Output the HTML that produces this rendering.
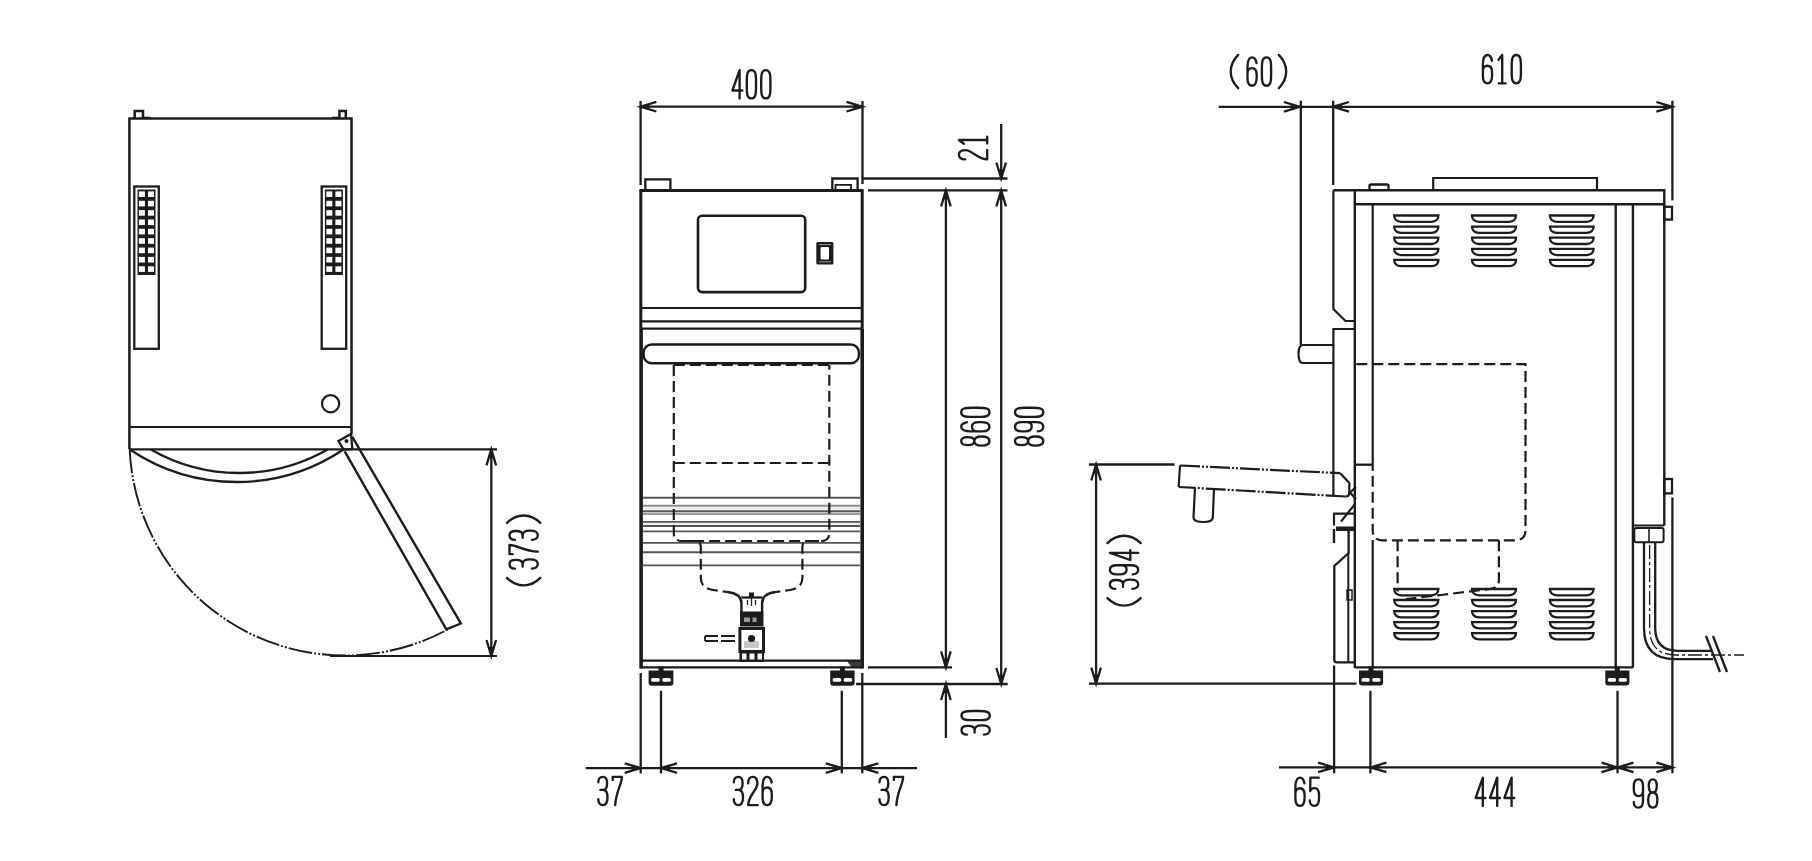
<!DOCTYPE html>
<html><head><meta charset="utf-8"><style>
html,body{margin:0;padding:0;background:#fff;overflow:hidden;}
svg{display:block;}
text{font-family:"Liberation Sans",sans-serif;fill:#1e1c1b;stroke:none;}
</style></head><body>
<svg width="1812" height="861" viewBox="0 0 1812 861" stroke="#1e1c1b" stroke-linecap="butt" fill="none">
<rect x="0" y="0" width="1812" height="861" fill="#fff" stroke="none"/>
<path d="M129.4 449.3 L129.4 118.6 L351.5 118.6 L351.5 434" stroke-width="2.5" fill="none" />
<line x1="129.4" y1="449.3" x2="497.0" y2="449.3" stroke-width="2.2" />
<line x1="129.4" y1="427.0" x2="351.5" y2="427.0" stroke-width="2.2" />
<path d="M134.7 118.6 L134.7 110.9 L143 110.9 L143 118.6" stroke-width="2.5" fill="none" />
<line x1="143.0" y1="117.6" x2="150.5" y2="117.6" stroke-width="1.8" />
<path d="M339.4 118.6 L339.4 110.9 L345.8 110.9 L345.8 118.6" stroke-width="2.5" fill="none" />
<line x1="332.0" y1="117.6" x2="339.4" y2="117.6" stroke-width="1.8" />
<rect x="134.3" y="186.5" width="24.5" height="162.3" rx="0" stroke-width="2.3" fill="none" />
<rect x="137.5" y="189.5" width="18.0" height="85.5" rx="0" stroke-width="0" fill="#1e1c1b" stroke="none"/>
<rect x="138.9" y="191.4" width="6.0" height="5.6" rx="0" stroke-width="0" fill="#fff" stroke="none"/>
<rect x="148.0" y="191.4" width="6.0" height="5.6" rx="0" stroke-width="0" fill="#fff" stroke="none"/>
<rect x="138.9" y="200.8" width="6.0" height="5.6" rx="0" stroke-width="0" fill="#fff" stroke="none"/>
<rect x="148.0" y="200.8" width="6.0" height="5.6" rx="0" stroke-width="0" fill="#fff" stroke="none"/>
<rect x="138.9" y="210.1" width="6.0" height="5.6" rx="0" stroke-width="0" fill="#fff" stroke="none"/>
<rect x="148.0" y="210.1" width="6.0" height="5.6" rx="0" stroke-width="0" fill="#fff" stroke="none"/>
<rect x="138.9" y="219.5" width="6.0" height="5.6" rx="0" stroke-width="0" fill="#fff" stroke="none"/>
<rect x="148.0" y="219.5" width="6.0" height="5.6" rx="0" stroke-width="0" fill="#fff" stroke="none"/>
<rect x="138.9" y="228.8" width="6.0" height="5.6" rx="0" stroke-width="0" fill="#fff" stroke="none"/>
<rect x="148.0" y="228.8" width="6.0" height="5.6" rx="0" stroke-width="0" fill="#fff" stroke="none"/>
<rect x="138.9" y="238.2" width="6.0" height="5.6" rx="0" stroke-width="0" fill="#fff" stroke="none"/>
<rect x="148.0" y="238.2" width="6.0" height="5.6" rx="0" stroke-width="0" fill="#fff" stroke="none"/>
<rect x="138.9" y="247.6" width="6.0" height="5.6" rx="0" stroke-width="0" fill="#fff" stroke="none"/>
<rect x="148.0" y="247.6" width="6.0" height="5.6" rx="0" stroke-width="0" fill="#fff" stroke="none"/>
<rect x="138.9" y="256.9" width="6.0" height="5.6" rx="0" stroke-width="0" fill="#fff" stroke="none"/>
<rect x="148.0" y="256.9" width="6.0" height="5.6" rx="0" stroke-width="0" fill="#fff" stroke="none"/>
<rect x="138.9" y="266.3" width="6.0" height="5.6" rx="0" stroke-width="0" fill="#fff" stroke="none"/>
<rect x="148.0" y="266.3" width="6.0" height="5.6" rx="0" stroke-width="0" fill="#fff" stroke="none"/>
<rect x="321.7" y="186.5" width="24.5" height="162.3" rx="0" stroke-width="2.3" fill="none" />
<rect x="324.9" y="189.5" width="18.0" height="85.5" rx="0" stroke-width="0" fill="#1e1c1b" stroke="none"/>
<rect x="326.3" y="191.4" width="6.0" height="5.6" rx="0" stroke-width="0" fill="#fff" stroke="none"/>
<rect x="335.4" y="191.4" width="6.0" height="5.6" rx="0" stroke-width="0" fill="#fff" stroke="none"/>
<rect x="326.3" y="200.8" width="6.0" height="5.6" rx="0" stroke-width="0" fill="#fff" stroke="none"/>
<rect x="335.4" y="200.8" width="6.0" height="5.6" rx="0" stroke-width="0" fill="#fff" stroke="none"/>
<rect x="326.3" y="210.1" width="6.0" height="5.6" rx="0" stroke-width="0" fill="#fff" stroke="none"/>
<rect x="335.4" y="210.1" width="6.0" height="5.6" rx="0" stroke-width="0" fill="#fff" stroke="none"/>
<rect x="326.3" y="219.5" width="6.0" height="5.6" rx="0" stroke-width="0" fill="#fff" stroke="none"/>
<rect x="335.4" y="219.5" width="6.0" height="5.6" rx="0" stroke-width="0" fill="#fff" stroke="none"/>
<rect x="326.3" y="228.8" width="6.0" height="5.6" rx="0" stroke-width="0" fill="#fff" stroke="none"/>
<rect x="335.4" y="228.8" width="6.0" height="5.6" rx="0" stroke-width="0" fill="#fff" stroke="none"/>
<rect x="326.3" y="238.2" width="6.0" height="5.6" rx="0" stroke-width="0" fill="#fff" stroke="none"/>
<rect x="335.4" y="238.2" width="6.0" height="5.6" rx="0" stroke-width="0" fill="#fff" stroke="none"/>
<rect x="326.3" y="247.6" width="6.0" height="5.6" rx="0" stroke-width="0" fill="#fff" stroke="none"/>
<rect x="335.4" y="247.6" width="6.0" height="5.6" rx="0" stroke-width="0" fill="#fff" stroke="none"/>
<rect x="326.3" y="256.9" width="6.0" height="5.6" rx="0" stroke-width="0" fill="#fff" stroke="none"/>
<rect x="335.4" y="256.9" width="6.0" height="5.6" rx="0" stroke-width="0" fill="#fff" stroke="none"/>
<rect x="326.3" y="266.3" width="6.0" height="5.6" rx="0" stroke-width="0" fill="#fff" stroke="none"/>
<rect x="335.4" y="266.3" width="6.0" height="5.6" rx="0" stroke-width="0" fill="#fff" stroke="none"/>
<circle cx="330.6" cy="403.7" r="8.6" stroke-width="2.2" fill="none"/>
<path d="M338.4 440.9 L351.1 433.9 L352.3 449 L343.6 449.6 Z" stroke-width="2.3" fill="none" />
<circle cx="346.5" cy="440.9" r="2" fill="#1e1c1b" stroke="none"/>
<path d="M352.3 436.8 L460.8 623.5 L446.3 629.3 L344.7 451.4" stroke-width="2.4" fill="none" />
<path d="M129.8 449.5 A192 192 0 0 0 343.5 449.5" stroke-width="2.3" fill="none" />
<path d="M150.8 449.5 A178 178 0 0 0 327.6 449.5" stroke-width="2.3" fill="none" />
<path d="M129.7 449.4 A215.5 215.5 0 0 0 451.1 627.6" stroke-width="1.9" fill="none" stroke-dasharray="24 2 2 2 2 2"/>
<line x1="330.0" y1="656.0" x2="497.0" y2="656.0" stroke-width="2.2" />
<line x1="491.3" y1="449.3" x2="491.3" y2="656.0" stroke-width="2.3" />
<path d="M486.5 465.3 L491.3 449.3 L496.1 465.3" stroke-width="2.3" fill="none" stroke-linejoin="miter"/>
<path d="M491.3 449.3 L488.9 458.3 L493.7 458.3Z" fill="#1e1c1b" stroke="none"/>
<path d="M496.1 640.0 L491.3 656.0 L486.5 640.0" stroke-width="2.3" fill="none" stroke-linejoin="miter"/>
<path d="M491.3 656.0 L493.7 647.0 L488.9 647.0Z" fill="#1e1c1b" stroke="none"/>
<g transform="translate(508.40 586.50) rotate(-90)" stroke-width="2.35" stroke-linecap="round" stroke-linejoin="round" fill="none"><path transform="translate(0.00 0)" d="M8.6 -1.4 C2.2 5 1.1 10 1.1 15.25 C1.1 20.5 2.2 25.5 8.6 31.9"/><path transform="translate(16.80 0)" d="M1.1 6.5 C1.1 2.5 3 1.1 5.7 1.1 C8.6 1.1 9.9 3 9.9 7.5 C9.9 12 8.5 14.2 5.7 14.2 L3.2 14.2 M5.7 14.2 C8.8 14.2 10.3 16.5 10.3 21.5 C10.3 26.5 8.8 29.4 5.7 29.4 C2.8 29.4 1.1 27 1.1 23.5"/><path transform="translate(31.20 0)" d="M1.1 4.2 L1.1 1.1 L10.3 1.1 C10.3 9 4.5 15 3.6 29.4"/><path transform="translate(45.60 0)" d="M1.1 6.5 C1.1 2.5 3 1.1 5.7 1.1 C8.6 1.1 9.9 3 9.9 7.5 C9.9 12 8.5 14.2 5.7 14.2 L3.2 14.2 M5.7 14.2 C8.8 14.2 10.3 16.5 10.3 21.5 C10.3 26.5 8.8 29.4 5.7 29.4 C2.8 29.4 1.1 27 1.1 23.5"/><path transform="translate(62.50 0)" d="M1.1 -1.4 C7.4 5 8.5 10 8.5 15.25 C8.5 20.5 7.4 25.5 1.1 31.9"/></g>
<line x1="640.6" y1="101.0" x2="640.6" y2="185.0" stroke-width="2.3" />
<line x1="862.5" y1="101.0" x2="862.5" y2="184.0" stroke-width="2.3" />
<line x1="640.4" y1="106.7" x2="862.5" y2="106.7" stroke-width="2.3" />
<path d="M656.4 111.5 L640.4 106.7 L656.4 101.9" stroke-width="2.3" fill="none" stroke-linejoin="miter"/>
<path d="M640.4 106.7 L649.4 109.1 L649.4 104.3Z" fill="#1e1c1b" stroke="none"/>
<path d="M846.5 101.9 L862.5 106.7 L846.5 111.5" stroke-width="2.3" fill="none" stroke-linejoin="miter"/>
<path d="M862.5 106.7 L853.5 104.3 L853.5 109.1Z" fill="#1e1c1b" stroke="none"/>
<g transform="translate(731.30 69.00)" stroke-width="2.35" stroke-linecap="round" stroke-linejoin="round" fill="none"><path transform="translate(0.00 0)" d="M8.3 29.4 L8.3 1.1 L1.1 21.5 L11.0 21.5"/><path transform="translate(14.40 0)" d="M5.7 1.1 C9.700000000000001 1.1 10.3 5 10.3 12 L10.3 18.5 C10.3 25.5 9.700000000000001 29.4 5.7 29.4 C1.7000000000000002 29.4 1.1 25.5 1.1 18.5 L1.1 12 C1.1 5 1.7000000000000002 1.1 5.7 1.1 Z"/><path transform="translate(28.80 0)" d="M5.7 1.1 C9.700000000000001 1.1 10.3 5 10.3 12 L10.3 18.5 C10.3 25.5 9.700000000000001 29.4 5.7 29.4 C1.7000000000000002 29.4 1.1 25.5 1.1 18.5 L1.1 12 C1.1 5 1.7000000000000002 1.1 5.7 1.1 Z"/></g>
<path d="M640.8 328.6 L640.8 190.4 L862.2 190.4 L862.2 328.6" stroke-width="3.0" fill="none" />
<line x1="641.1" y1="328.6" x2="641.1" y2="668.5" stroke-width="3.6" />
<line x1="862.2" y1="328.6" x2="862.2" y2="668.5" stroke-width="3.6" />
<path d="M846 660 L861 660 L861 667.5 L852 667.5 Z" fill="#3a3a3a" stroke="none"/>
<path d="M645.3 190.4 L645.3 179.3 L670.4 179.3 L670.4 190.4" stroke-width="2.3" fill="none" />
<path d="M832.3 190.4 L832.3 178.5 L857.6 178.5 L857.6 190.4" stroke-width="2.3" fill="none" />
<path d="M835.5 190.4 L835.5 184.8 L851 184.8 L851 190.4" stroke-width="1.8" fill="none" />
<rect x="698.0" y="215.7" width="107.2" height="76.4" rx="4" stroke-width="2.6" fill="none" />
<rect x="816.3" y="242.0" width="17.1" height="22.5" rx="1.5" stroke-width="0" fill="#1e1c1b" stroke="none"/>
<rect x="820.6" y="247.0" width="8.4" height="12.5" rx="1" stroke-width="0" fill="#fff" stroke="none"/>
<line x1="819.0" y1="244.6" x2="831.0" y2="244.6" stroke-width="1.0" stroke="#999"/>
<line x1="819.0" y1="261.8" x2="831.0" y2="261.8" stroke-width="1.0" stroke="#999"/>
<line x1="640.4" y1="308.0" x2="862.3" y2="308.0" stroke-width="2.2" />
<line x1="640.4" y1="321.4" x2="862.3" y2="321.4" stroke-width="2.2" />
<line x1="640.4" y1="328.6" x2="862.3" y2="328.6" stroke-width="2.2" />
<rect x="643.6" y="344.5" width="215.3" height="18.8" rx="8" stroke-width="2.4" fill="none" />
<line x1="643.0" y1="497.8" x2="860.0" y2="497.8" stroke-width="1.9" stroke="#555"/>
<line x1="643.0" y1="505.7" x2="860.0" y2="505.7" stroke-width="1.9" stroke="#8a8a8a"/>
<line x1="643.0" y1="508.6" x2="860.0" y2="508.6" stroke-width="1.5" stroke="#e0e0e0"/>
<line x1="643.0" y1="511.2" x2="860.0" y2="511.2" stroke-width="1.9" stroke="#555"/>
<line x1="643.0" y1="513.8" x2="860.0" y2="513.8" stroke-width="2.2" stroke="#9a9a9a"/>
<line x1="643.0" y1="521.9" x2="860.0" y2="521.9" stroke-width="1.9" stroke="#555"/>
<line x1="643.0" y1="524.0" x2="860.0" y2="524.0" stroke-width="1.2" stroke="#e0e0e0"/>
<line x1="643.0" y1="526.0" x2="860.0" y2="526.0" stroke-width="1.9" stroke="#555"/>
<line x1="643.0" y1="531.4" x2="860.0" y2="531.4" stroke-width="1.9" stroke="#5a5a5a"/>
<line x1="643.0" y1="542.9" x2="860.0" y2="542.9" stroke-width="1.9" stroke="#555"/>
<line x1="643.0" y1="552.2" x2="860.0" y2="552.2" stroke-width="1.9" stroke="#555"/>
<line x1="643.0" y1="565.4" x2="860.0" y2="565.4" stroke-width="1.9" stroke="#555"/>
<path d="M673.8 365 L829.3 365" stroke-width="2.2" fill="none" stroke-dasharray="11 5"/>
<path d="M673.8 365 L673.8 533 Q673.8 541 681.8 541 L821.3 541 Q829.3 541 829.3 533 L829.3 365" stroke-width="2.2" fill="none" stroke-dasharray="11 5"/>
<path d="M673.8 463 L829.3 463" stroke-width="2.2" fill="none" stroke-dasharray="11 5"/>
<path d="M684 541 L695 541 Q700.8 541 700.8 547 L700.8 578 Q700.8 588 713 590 L730 592.5" stroke-width="2.2" fill="none" stroke-dasharray="11 5"/>
<path d="M819 541 L808 541 Q802.4 541 802.4 547 L802.4 578 Q802.4 588 790 590 L773 592.5" stroke-width="2.2" fill="none" stroke-dasharray="11 5"/>
<path d="M728 592 Q741.4 594 741.4 603 L741.4 612" stroke-width="2.4" fill="none" />
<path d="M775 592 Q762.1 594 762.1 603 L762.1 612" stroke-width="2.4" fill="none" />
<line x1="741.4" y1="597.5" x2="762.1" y2="597.5" stroke-width="2.3" />
<rect x="749.0" y="592.5" width="5.0" height="4.5" rx="0" stroke-width="0" fill="#1e1c1b" stroke="none"/>
<path d="M747.5 600 L747.5 605 M751.5 598 L751.5 606 M755.5 600 L755.5 605" stroke-width="1.3" fill="none" />
<rect x="740.0" y="611.5" width="23.5" height="15.0" rx="0" stroke-width="0" fill="#1e1c1b" stroke="none"/>
<rect x="744.0" y="617.5" width="6.0" height="4.5" rx="0" stroke-width="0" fill="#9a9a9a" stroke="none"/>
<rect x="752.5" y="617.5" width="4.0" height="4.5" rx="0" stroke-width="0" fill="#9a9a9a" stroke="none"/>
<rect x="739.9" y="628.5" width="23.6" height="23.0" rx="0" stroke-width="3.0" fill="none" />
<rect x="744.0" y="641.0" width="15.0" height="7.0" rx="0" stroke-width="0" fill="#c8c8c8" stroke="none"/>
<circle cx="751.5" cy="638.5" r="3.6" fill="#1e1c1b" stroke="none"/>
<rect x="739.5" y="651.5" width="24.5" height="10.5" rx="0" stroke-width="0" fill="#1e1c1b" stroke="none"/>
<rect x="742.0" y="653.5" width="4.5" height="6.5" rx="0" stroke-width="0" fill="#fff" stroke="none"/>
<rect x="749.5" y="653.5" width="5.0" height="6.5" rx="0" stroke-width="0" fill="#fff" stroke="none"/>
<rect x="757.5" y="653.5" width="4.5" height="6.5" rx="0" stroke-width="0" fill="#fff" stroke="none"/>
<path d="M705 636 L718 636 M705 641 L718 641 M721 636 L735 636 M721 641 L735 641 M705 636 L705 641" stroke-width="1.8" fill="none" />
<line x1="640.4" y1="660.6" x2="862.3" y2="660.6" stroke-width="2.2" />
<line x1="640.4" y1="667.4" x2="862.3" y2="667.4" stroke-width="2.2" />
<path d="M648.6 670.5 L673.4 670.5 L673.4 682.8 Q673.4 685.8 670.4 685.8 L651.6 685.8 Q648.6 685.8 648.6 682.8 Z" fill="#1e1c1b" stroke="none"/>
<rect x="658.5" y="666.5" width="5.0" height="4.5" rx="0" stroke-width="0" fill="#1e1c1b" stroke="none"/>
<rect x="651.1" y="678.0" width="8.6" height="3.8" rx="1.5" stroke-width="0" fill="#fff" stroke="none"/>
<rect x="662.3" y="678.0" width="8.6" height="3.8" rx="1.5" stroke-width="0" fill="#fff" stroke="none"/>
<path d="M830.2 670.5 L854.6 670.5 L854.6 682.8 Q854.6 685.8 851.6 685.8 L833.2 685.8 Q830.2 685.8 830.2 682.8 Z" fill="#1e1c1b" stroke="none"/>
<rect x="839.9" y="666.5" width="5.0" height="4.5" rx="0" stroke-width="0" fill="#1e1c1b" stroke="none"/>
<rect x="832.7" y="678.0" width="8.4" height="3.8" rx="1.5" stroke-width="0" fill="#fff" stroke="none"/>
<rect x="843.7" y="678.0" width="8.4" height="3.8" rx="1.5" stroke-width="0" fill="#fff" stroke="none"/>
<line x1="862.5" y1="178.5" x2="1007.5" y2="178.5" stroke-width="2.3" />
<line x1="868.0" y1="190.4" x2="1007.5" y2="190.4" stroke-width="2.3" />
<line x1="1001.2" y1="124.0" x2="1001.2" y2="178.5" stroke-width="2.3" />
<path d="M1006.0 162.5 L1001.2 178.5 L996.4 162.5" stroke-width="2.3" fill="none" stroke-linejoin="miter"/>
<path d="M1001.2 178.5 L1003.6 169.5 L998.8 169.5Z" fill="#1e1c1b" stroke="none"/>
<line x1="1001.2" y1="190.4" x2="1001.2" y2="684.0" stroke-width="2.3" />
<path d="M996.4 206.4 L1001.2 190.4 L1006.0 206.4" stroke-width="2.3" fill="none" stroke-linejoin="miter"/>
<path d="M1001.2 190.4 L998.8 199.4 L1003.6 199.4Z" fill="#1e1c1b" stroke="none"/>
<path d="M1006.0 668.0 L1001.2 684.0 L996.4 668.0" stroke-width="2.3" fill="none" stroke-linejoin="miter"/>
<path d="M1001.2 684.0 L1003.6 675.0 L998.8 675.0Z" fill="#1e1c1b" stroke="none"/>
<line x1="945.9" y1="190.4" x2="945.9" y2="667.4" stroke-width="2.3" />
<path d="M941.1 206.4 L945.9 190.4 L950.7 206.4" stroke-width="2.3" fill="none" stroke-linejoin="miter"/>
<path d="M945.9 190.4 L943.5 199.4 L948.3 199.4Z" fill="#1e1c1b" stroke="none"/>
<path d="M950.7 651.4 L945.9 667.4 L941.1 651.4" stroke-width="2.3" fill="none" stroke-linejoin="miter"/>
<path d="M945.9 667.4 L948.3 658.4 L943.5 658.4Z" fill="#1e1c1b" stroke="none"/>
<line x1="945.9" y1="684.0" x2="945.9" y2="738.0" stroke-width="2.3" />
<path d="M941.1 700.0 L945.9 684.0 L950.7 700.0" stroke-width="2.3" fill="none" stroke-linejoin="miter"/>
<path d="M945.9 684.0 L943.5 693.0 L948.3 693.0Z" fill="#1e1c1b" stroke="none"/>
<line x1="868.0" y1="667.4" x2="952.0" y2="667.4" stroke-width="2.3" />
<line x1="856.0" y1="684.0" x2="1007.7" y2="684.0" stroke-width="2.3" />
<g transform="translate(957.80 160.40) rotate(-90)" stroke-width="2.35" stroke-linecap="round" stroke-linejoin="round" fill="none"><path transform="translate(0.00 0)" d="M1.1 7.5 C1.1 3 3 1.1 5.7 1.1 C8.6 1.1 10.3 3 10.3 8 C10.3 14 1.1 20 1.1 29.4 L10.600000000000001 29.4"/><path transform="translate(14.40 0)" d="M2.2 6 L6 1.1 L6 29.4 M2.6 29.4 L9.4 29.4"/></g>
<g transform="translate(960.10 446.80) rotate(-90)" stroke-width="2.35" stroke-linecap="round" stroke-linejoin="round" fill="none"><path transform="translate(0.00 0)" d="M5.7 14.2 C2.8 14.2 1.7000000000000002 12 1.7000000000000002 7.5 C1.7000000000000002 3.3 2.8 1.1 5.7 1.1 C8.6 1.1 9.700000000000001 3.3 9.700000000000001 7.5 C9.700000000000001 12 8.6 14.2 5.7 14.2 C8.8 14.2 10.3 16.5 10.3 21.5 C10.3 26.5 8.8 29.4 5.7 29.4 C2.6 29.4 1.1 26.5 1.1 21.5 C1.1 16.5 2.6 14.2 5.7 14.2 Z"/><path transform="translate(14.40 0)" d="M10.100000000000001 6.8 C9.5 3 8 1.1 5.7 1.1 C2.6 1.1 1.1 4 1.1 11 L1.1 22 C1.1 26.5 2.5 29.4 5.7 29.4 C8.8 29.4 10.3 26.5 10.3 21 L10.3 19 C10.3 14.5 8.8 11.8 5.7 11.8 C2.8 11.8 1.1 14 1.1 17"/><path transform="translate(28.80 0)" d="M5.7 1.1 C9.700000000000001 1.1 10.3 5 10.3 12 L10.3 18.5 C10.3 25.5 9.700000000000001 29.4 5.7 29.4 C1.7000000000000002 29.4 1.1 25.5 1.1 18.5 L1.1 12 C1.1 5 1.7000000000000002 1.1 5.7 1.1 Z"/></g>
<g transform="translate(1013.90 446.80) rotate(-90)" stroke-width="2.35" stroke-linecap="round" stroke-linejoin="round" fill="none"><path transform="translate(0.00 0)" d="M5.7 14.2 C2.8 14.2 1.7000000000000002 12 1.7000000000000002 7.5 C1.7000000000000002 3.3 2.8 1.1 5.7 1.1 C8.6 1.1 9.700000000000001 3.3 9.700000000000001 7.5 C9.700000000000001 12 8.6 14.2 5.7 14.2 C8.8 14.2 10.3 16.5 10.3 21.5 C10.3 26.5 8.8 29.4 5.7 29.4 C2.6 29.4 1.1 26.5 1.1 21.5 C1.1 16.5 2.6 14.2 5.7 14.2 Z"/><path transform="translate(14.40 0)" d="M5.7 17.8 C2.6 17.8 1.1 15.5 1.1 11 L1.1 8 C1.1 3.5 2.6 1.1 5.7 1.1 C8.8 1.1 10.3 3.5 10.3 8 L10.3 22 C10.3 26.5 8.8 29.4 5.7 29.4 C2.8 29.4 1.1 27 1.1 24 M10.3 13 C10.3 16 8.8 17.8 5.7 17.8"/><path transform="translate(28.80 0)" d="M5.7 1.1 C9.700000000000001 1.1 10.3 5 10.3 12 L10.3 18.5 C10.3 25.5 9.700000000000001 29.4 5.7 29.4 C1.7000000000000002 29.4 1.1 25.5 1.1 18.5 L1.1 12 C1.1 5 1.7000000000000002 1.1 5.7 1.1 Z"/></g>
<g transform="translate(960.40 735.70) rotate(-90)" stroke-width="2.35" stroke-linecap="round" stroke-linejoin="round" fill="none"><path transform="translate(0.00 0)" d="M1.1 6.5 C1.1 2.5 3 1.1 5.7 1.1 C8.6 1.1 9.9 3 9.9 7.5 C9.9 12 8.5 14.2 5.7 14.2 L3.2 14.2 M5.7 14.2 C8.8 14.2 10.3 16.5 10.3 21.5 C10.3 26.5 8.8 29.4 5.7 29.4 C2.8 29.4 1.1 27 1.1 23.5"/><path transform="translate(14.40 0)" d="M5.7 1.1 C9.700000000000001 1.1 10.3 5 10.3 12 L10.3 18.5 C10.3 25.5 9.700000000000001 29.4 5.7 29.4 C1.7000000000000002 29.4 1.1 25.5 1.1 18.5 L1.1 12 C1.1 5 1.7000000000000002 1.1 5.7 1.1 Z"/></g>
<line x1="585.7" y1="768.1" x2="917.0" y2="768.1" stroke-width="2.3" />
<line x1="640.7" y1="673.0" x2="640.7" y2="773.4" stroke-width="2.3" />
<line x1="661.0" y1="690.8" x2="661.0" y2="773.4" stroke-width="2.3" />
<line x1="841.8" y1="690.8" x2="841.8" y2="773.4" stroke-width="2.3" />
<line x1="862.3" y1="673.0" x2="862.3" y2="773.4" stroke-width="2.3" />
<path d="M624.7 763.3 L640.7 768.1 L624.7 772.9" stroke-width="2.3" fill="none" stroke-linejoin="miter"/>
<path d="M640.7 768.1 L631.7 765.7 L631.7 770.5Z" fill="#1e1c1b" stroke="none"/>
<path d="M677.0 772.9 L661.0 768.1 L677.0 763.3" stroke-width="2.3" fill="none" stroke-linejoin="miter"/>
<path d="M661.0 768.1 L670.0 770.5 L670.0 765.7Z" fill="#1e1c1b" stroke="none"/>
<path d="M825.8 763.3 L841.8 768.1 L825.8 772.9" stroke-width="2.3" fill="none" stroke-linejoin="miter"/>
<path d="M841.8 768.1 L832.8 765.7 L832.8 770.5Z" fill="#1e1c1b" stroke="none"/>
<path d="M878.3 772.9 L862.3 768.1 L878.3 763.3" stroke-width="2.3" fill="none" stroke-linejoin="miter"/>
<path d="M862.3 768.1 L871.3 770.5 L871.3 765.7Z" fill="#1e1c1b" stroke="none"/>
<g transform="translate(597.20 775.70)" stroke-width="2.35" stroke-linecap="round" stroke-linejoin="round" fill="none"><path transform="translate(0.00 0)" d="M1.1 6.5 C1.1 2.5 3 1.1 5.7 1.1 C8.6 1.1 9.9 3 9.9 7.5 C9.9 12 8.5 14.2 5.7 14.2 L3.2 14.2 M5.7 14.2 C8.8 14.2 10.3 16.5 10.3 21.5 C10.3 26.5 8.8 29.4 5.7 29.4 C2.8 29.4 1.1 27 1.1 23.5"/><path transform="translate(14.40 0)" d="M1.1 4.2 L1.1 1.1 L10.3 1.1 C10.3 9 4.5 15 3.6 29.4"/></g>
<g transform="translate(732.70 775.70)" stroke-width="2.35" stroke-linecap="round" stroke-linejoin="round" fill="none"><path transform="translate(0.00 0)" d="M1.1 6.5 C1.1 2.5 3 1.1 5.7 1.1 C8.6 1.1 9.9 3 9.9 7.5 C9.9 12 8.5 14.2 5.7 14.2 L3.2 14.2 M5.7 14.2 C8.8 14.2 10.3 16.5 10.3 21.5 C10.3 26.5 8.8 29.4 5.7 29.4 C2.8 29.4 1.1 27 1.1 23.5"/><path transform="translate(14.40 0)" d="M1.1 7.5 C1.1 3 3 1.1 5.7 1.1 C8.6 1.1 10.3 3 10.3 8 C10.3 14 1.1 20 1.1 29.4 L10.600000000000001 29.4"/><path transform="translate(28.80 0)" d="M10.100000000000001 6.8 C9.5 3 8 1.1 5.7 1.1 C2.6 1.1 1.1 4 1.1 11 L1.1 22 C1.1 26.5 2.5 29.4 5.7 29.4 C8.8 29.4 10.3 26.5 10.3 21 L10.3 19 C10.3 14.5 8.8 11.8 5.7 11.8 C2.8 11.8 1.1 14 1.1 17"/></g>
<g transform="translate(878.40 775.70)" stroke-width="2.35" stroke-linecap="round" stroke-linejoin="round" fill="none"><path transform="translate(0.00 0)" d="M1.1 6.5 C1.1 2.5 3 1.1 5.7 1.1 C8.6 1.1 9.9 3 9.9 7.5 C9.9 12 8.5 14.2 5.7 14.2 L3.2 14.2 M5.7 14.2 C8.8 14.2 10.3 16.5 10.3 21.5 C10.3 26.5 8.8 29.4 5.7 29.4 C2.8 29.4 1.1 27 1.1 23.5"/><path transform="translate(14.40 0)" d="M1.1 4.2 L1.1 1.1 L10.3 1.1 C10.3 9 4.5 15 3.6 29.4"/></g>
<line x1="1218.8" y1="106.8" x2="1672.4" y2="106.8" stroke-width="2.3" />
<path d="M1283.9 102.0 L1299.9 106.8 L1283.9 111.6" stroke-width="2.3" fill="none" stroke-linejoin="miter"/>
<path d="M1299.9 106.8 L1290.9 104.4 L1290.9 109.2Z" fill="#1e1c1b" stroke="none"/>
<path d="M1349.0 111.6 L1333.0 106.8 L1349.0 102.0" stroke-width="2.3" fill="none" stroke-linejoin="miter"/>
<path d="M1333.0 106.8 L1342.0 109.2 L1342.0 104.4Z" fill="#1e1c1b" stroke="none"/>
<path d="M1656.4 102.0 L1672.4 106.8 L1656.4 111.6" stroke-width="2.3" fill="none" stroke-linejoin="miter"/>
<path d="M1672.4 106.8 L1663.4 104.4 L1663.4 109.2Z" fill="#1e1c1b" stroke="none"/>
<line x1="1300.8" y1="100.7" x2="1300.8" y2="345.0" stroke-width="2.3" />
<line x1="1333.2" y1="100.7" x2="1333.2" y2="184.9" stroke-width="2.3" />
<line x1="1672.4" y1="100.7" x2="1672.4" y2="200.4" stroke-width="2.3" />
<g transform="translate(1229.60 56.30)" stroke-width="2.35" stroke-linecap="round" stroke-linejoin="round" fill="none"><path transform="translate(0.00 0)" d="M8.6 -1.4 C2.2 5 1.1 10 1.1 15.25 C1.1 20.5 2.2 25.5 8.6 31.9"/><path transform="translate(16.80 0)" d="M10.100000000000001 6.8 C9.5 3 8 1.1 5.7 1.1 C2.6 1.1 1.1 4 1.1 11 L1.1 22 C1.1 26.5 2.5 29.4 5.7 29.4 C8.8 29.4 10.3 26.5 10.3 21 L10.3 19 C10.3 14.5 8.8 11.8 5.7 11.8 C2.8 11.8 1.1 14 1.1 17"/><path transform="translate(31.20 0)" d="M5.7 1.1 C9.700000000000001 1.1 10.3 5 10.3 12 L10.3 18.5 C10.3 25.5 9.700000000000001 29.4 5.7 29.4 C1.7000000000000002 29.4 1.1 25.5 1.1 18.5 L1.1 12 C1.1 5 1.7000000000000002 1.1 5.7 1.1 Z"/><path transform="translate(48.10 0)" d="M1.1 -1.4 C7.4 5 8.5 10 8.5 15.25 C8.5 20.5 7.4 25.5 1.1 31.9"/></g>
<g transform="translate(1481.80 53.90)" stroke-width="2.35" stroke-linecap="round" stroke-linejoin="round" fill="none"><path transform="translate(0.00 0)" d="M10.100000000000001 6.8 C9.5 3 8 1.1 5.7 1.1 C2.6 1.1 1.1 4 1.1 11 L1.1 22 C1.1 26.5 2.5 29.4 5.7 29.4 C8.8 29.4 10.3 26.5 10.3 21 L10.3 19 C10.3 14.5 8.8 11.8 5.7 11.8 C2.8 11.8 1.1 14 1.1 17"/><path transform="translate(14.40 0)" d="M2.2 6 L6 1.1 L6 29.4 M2.6 29.4 L9.4 29.4"/><path transform="translate(28.80 0)" d="M5.7 1.1 C9.700000000000001 1.1 10.3 5 10.3 12 L10.3 18.5 C10.3 25.5 9.700000000000001 29.4 5.7 29.4 C1.7000000000000002 29.4 1.1 25.5 1.1 18.5 L1.1 12 C1.1 5 1.7000000000000002 1.1 5.7 1.1 Z"/></g>
<path d="M1333.4 190.3 L1664.3 190.3 L1664.3 525.5" stroke-width="2.4" fill="none" />
<line x1="1354.8" y1="204.3" x2="1664.3" y2="204.3" stroke-width="2.4" />
<path d="M1369.5 190.3 L1369.5 186 Q1369.5 184.5 1371 184.5 L1387 184.5 Q1388.5 184.5 1388.5 186 L1388.5 190.3" stroke-width="2.3" fill="none" />
<path d="M1433.2 190.3 L1433.2 178 L1597 178 L1597 190.3" stroke-width="2.2" fill="none" />
<line x1="1354.8" y1="190.3" x2="1354.8" y2="668.0" stroke-width="2.4" />
<line x1="1372.7" y1="204.3" x2="1372.7" y2="465.0" stroke-width="2.2" />
<line x1="1372.7" y1="540.0" x2="1372.7" y2="668.0" stroke-width="2.2" />
<line x1="1615.7" y1="204.3" x2="1615.7" y2="668.0" stroke-width="2.4" />
<line x1="1632.9" y1="204.3" x2="1632.9" y2="667.5" stroke-width="2.4" />
<line x1="1355.2" y1="667.4" x2="1633.2" y2="667.4" stroke-width="2.4" />
<rect x="1664.3" y="206.8" width="7.7" height="12.8" rx="0" stroke-width="2.3" fill="none" />
<rect x="1664.3" y="479.0" width="7.7" height="14.4" rx="0" stroke-width="2.3" fill="none" />
<line x1="1672.4" y1="497.6" x2="1672.4" y2="773.3" stroke-width="2.3" />
<path d="M1632.9 525.5 L1664.3 525.5" stroke-width="2.2" fill="none" />
<rect x="1634.3" y="528.0" width="29.3" height="14.2" rx="2" stroke-width="2.0" fill="none" />
<line x1="1649.0" y1="528.0" x2="1649.0" y2="542.0" stroke-width="1.6" />
<path d="M1644 542.2 L1644 628 Q1644 659.2 1675 659.2 L1713 659.2" stroke-width="2.3" fill="none" />
<path d="M1655.2 542.2 L1655.2 628 Q1655.2 650.8 1678 650.8 L1711 650.8" stroke-width="2.3" fill="none" />
<path d="M1649.6 545 L1649.6 628 Q1649.6 655 1676 655 L1744 655" stroke-width="1.3" fill="none" stroke-dasharray="14 3 3 3"/>
<path d="M1706 636 L1720 672 M1713 636 L1727 672" stroke-width="2.3" fill="none" />
<path d="M1394.2 215.5 L1438.4 215.5 C1438.4 219.0 1435.9 221.8 1431.4 221.8 L1401.2 221.8 C1396.7 221.8 1394.2 219.0 1394.2 215.5 Z" stroke-width="2.3" fill="none" />
<path d="M1394.2 589.0 L1438.4 589.0 C1438.4 592.5 1435.9 595.3 1431.4 595.3 L1401.2 595.3 C1396.7 595.3 1394.2 592.5 1394.2 589.0 Z" stroke-width="2.3" fill="none" />
<path d="M1394.2 226.6 L1438.4 226.6 C1438.4 230.1 1435.9 232.9 1431.4 232.9 L1401.2 232.9 C1396.7 232.9 1394.2 230.1 1394.2 226.6 Z" stroke-width="2.3" fill="none" />
<path d="M1394.2 600.0 L1438.4 600.0 C1438.4 603.5 1435.9 606.3 1431.4 606.3 L1401.2 606.3 C1396.7 606.3 1394.2 603.5 1394.2 600.0 Z" stroke-width="2.3" fill="none" />
<path d="M1394.2 237.7 L1438.4 237.7 C1438.4 241.2 1435.9 244.0 1431.4 244.0 L1401.2 244.0 C1396.7 244.0 1394.2 241.2 1394.2 237.7 Z" stroke-width="2.3" fill="none" />
<path d="M1394.2 611.1 L1438.4 611.1 C1438.4 614.6 1435.9 617.4 1431.4 617.4 L1401.2 617.4 C1396.7 617.4 1394.2 614.6 1394.2 611.1 Z" stroke-width="2.3" fill="none" />
<path d="M1394.2 248.8 L1438.4 248.8 C1438.4 252.3 1435.9 255.1 1431.4 255.1 L1401.2 255.1 C1396.7 255.1 1394.2 252.3 1394.2 248.8 Z" stroke-width="2.3" fill="none" />
<path d="M1394.2 622.1 L1438.4 622.1 C1438.4 625.6 1435.9 628.4 1431.4 628.4 L1401.2 628.4 C1396.7 628.4 1394.2 625.6 1394.2 622.1 Z" stroke-width="2.3" fill="none" />
<path d="M1394.2 259.9 L1438.4 259.9 C1438.4 263.4 1435.9 266.2 1431.4 266.2 L1401.2 266.2 C1396.7 266.2 1394.2 263.4 1394.2 259.9 Z" stroke-width="2.3" fill="none" />
<path d="M1394.2 633.1 L1438.4 633.1 C1438.4 636.6 1435.9 639.4 1431.4 639.4 L1401.2 639.4 C1396.7 639.4 1394.2 636.6 1394.2 633.1 Z" stroke-width="2.3" fill="none" />
<path d="M1472.0 215.5 L1516.0 215.5 C1516.0 219.0 1513.5 221.8 1509.0 221.8 L1479.0 221.8 C1474.5 221.8 1472.0 219.0 1472.0 215.5 Z" stroke-width="2.3" fill="none" />
<path d="M1472.0 589.0 L1516.0 589.0 C1516.0 592.5 1513.5 595.3 1509.0 595.3 L1479.0 595.3 C1474.5 595.3 1472.0 592.5 1472.0 589.0 Z" stroke-width="2.3" fill="none" />
<path d="M1472.0 226.6 L1516.0 226.6 C1516.0 230.1 1513.5 232.9 1509.0 232.9 L1479.0 232.9 C1474.5 232.9 1472.0 230.1 1472.0 226.6 Z" stroke-width="2.3" fill="none" />
<path d="M1472.0 600.0 L1516.0 600.0 C1516.0 603.5 1513.5 606.3 1509.0 606.3 L1479.0 606.3 C1474.5 606.3 1472.0 603.5 1472.0 600.0 Z" stroke-width="2.3" fill="none" />
<path d="M1472.0 237.7 L1516.0 237.7 C1516.0 241.2 1513.5 244.0 1509.0 244.0 L1479.0 244.0 C1474.5 244.0 1472.0 241.2 1472.0 237.7 Z" stroke-width="2.3" fill="none" />
<path d="M1472.0 611.1 L1516.0 611.1 C1516.0 614.6 1513.5 617.4 1509.0 617.4 L1479.0 617.4 C1474.5 617.4 1472.0 614.6 1472.0 611.1 Z" stroke-width="2.3" fill="none" />
<path d="M1472.0 248.8 L1516.0 248.8 C1516.0 252.3 1513.5 255.1 1509.0 255.1 L1479.0 255.1 C1474.5 255.1 1472.0 252.3 1472.0 248.8 Z" stroke-width="2.3" fill="none" />
<path d="M1472.0 622.1 L1516.0 622.1 C1516.0 625.6 1513.5 628.4 1509.0 628.4 L1479.0 628.4 C1474.5 628.4 1472.0 625.6 1472.0 622.1 Z" stroke-width="2.3" fill="none" />
<path d="M1472.0 259.9 L1516.0 259.9 C1516.0 263.4 1513.5 266.2 1509.0 266.2 L1479.0 266.2 C1474.5 266.2 1472.0 263.4 1472.0 259.9 Z" stroke-width="2.3" fill="none" />
<path d="M1472.0 633.1 L1516.0 633.1 C1516.0 636.6 1513.5 639.4 1509.0 639.4 L1479.0 639.4 C1474.5 639.4 1472.0 636.6 1472.0 633.1 Z" stroke-width="2.3" fill="none" />
<path d="M1549.9 215.5 L1593.6 215.5 C1593.6 219.0 1591.1 221.8 1586.6 221.8 L1556.9 221.8 C1552.4 221.8 1549.9 219.0 1549.9 215.5 Z" stroke-width="2.3" fill="none" />
<path d="M1549.9 589.0 L1593.6 589.0 C1593.6 592.5 1591.1 595.3 1586.6 595.3 L1556.9 595.3 C1552.4 595.3 1549.9 592.5 1549.9 589.0 Z" stroke-width="2.3" fill="none" />
<path d="M1549.9 226.6 L1593.6 226.6 C1593.6 230.1 1591.1 232.9 1586.6 232.9 L1556.9 232.9 C1552.4 232.9 1549.9 230.1 1549.9 226.6 Z" stroke-width="2.3" fill="none" />
<path d="M1549.9 600.0 L1593.6 600.0 C1593.6 603.5 1591.1 606.3 1586.6 606.3 L1556.9 606.3 C1552.4 606.3 1549.9 603.5 1549.9 600.0 Z" stroke-width="2.3" fill="none" />
<path d="M1549.9 237.7 L1593.6 237.7 C1593.6 241.2 1591.1 244.0 1586.6 244.0 L1556.9 244.0 C1552.4 244.0 1549.9 241.2 1549.9 237.7 Z" stroke-width="2.3" fill="none" />
<path d="M1549.9 611.1 L1593.6 611.1 C1593.6 614.6 1591.1 617.4 1586.6 617.4 L1556.9 617.4 C1552.4 617.4 1549.9 614.6 1549.9 611.1 Z" stroke-width="2.3" fill="none" />
<path d="M1549.9 248.8 L1593.6 248.8 C1593.6 252.3 1591.1 255.1 1586.6 255.1 L1556.9 255.1 C1552.4 255.1 1549.9 252.3 1549.9 248.8 Z" stroke-width="2.3" fill="none" />
<path d="M1549.9 622.1 L1593.6 622.1 C1593.6 625.6 1591.1 628.4 1586.6 628.4 L1556.9 628.4 C1552.4 628.4 1549.9 625.6 1549.9 622.1 Z" stroke-width="2.3" fill="none" />
<path d="M1549.9 259.9 L1593.6 259.9 C1593.6 263.4 1591.1 266.2 1586.6 266.2 L1556.9 266.2 C1552.4 266.2 1549.9 263.4 1549.9 259.9 Z" stroke-width="2.3" fill="none" />
<path d="M1549.9 633.1 L1593.6 633.1 C1593.6 636.6 1591.1 639.4 1586.6 639.4 L1556.9 639.4 C1552.4 639.4 1549.9 636.6 1549.9 633.1 Z" stroke-width="2.3" fill="none" />
<path d="M1356.3 364.1 L1525.5 364.1 L1525.5 530 Q1525.5 540.3 1515 540.3 L1382 540.3 Q1372.7 540.3 1372.7 530 L1372.7 465" stroke-width="2.2" fill="none" stroke-dasharray="11 5"/>
<path d="M1397.6 540.3 L1397.6 591.4" stroke-width="2.2" fill="none" stroke-dasharray="11 5"/>
<path d="M1498.9 540.3 L1498.9 580 Q1498.9 588 1490 589 L1441 595 L1406 599" stroke-width="2.2" fill="none" stroke-dasharray="11 5"/>
<line x1="1355.2" y1="464.7" x2="1372.7" y2="464.7" stroke-width="2.3" />
<path d="M1333.4 190.3 L1333.4 309 L1345.5 321 L1354.8 321" stroke-width="2.2" fill="none" />
<path d="M1354.8 329 L1333.4 329 L1333.4 496" stroke-width="2.2" fill="none" />
<path d="M1333.4 345 L1303 345 Q1298.5 345 1298.5 354 Q1298.5 363 1303 363 L1333.4 363" stroke-width="2.2" fill="none" />
<path d="M1180 465.5 L1340.2 473.2" stroke-width="2.2" fill="none" stroke-dasharray="20 2 2 2 2 2"/>
<path d="M1340.2 473.2 L1349.3 483 L1349.3 493 Q1349.3 496.5 1345.5 496.5" stroke-width="2.2" fill="none" />
<path d="M1345.5 496.5 L1178.7 487" stroke-width="2.2" fill="none" stroke-dasharray="20 2 2 2 2 2"/>
<path d="M1178.7 487 L1180 465.5" stroke-width="2.2" fill="none" />
<path d="M1195 488 L1193.5 517.5 Q1193.5 522 1203.3 522 Q1212.8 522 1212.8 517.5 L1214 489" stroke-width="2.2" fill="none" />
<path d="M1356 487 L1350 492.5 L1356 499" stroke-width="2.3" fill="none" />
<path d="M1355 504 L1341 521.5" stroke-width="2.2" fill="none" />
<path d="M1356 513.7 L1334 513.7 L1334 525.5" stroke-width="2.2" fill="none" />
<rect x="1336.0" y="526.5" width="20.0" height="4.5" rx="0" stroke-width="0" fill="#1e1c1b" stroke="none"/>
<path d="M1334 529 L1334 543" stroke-width="2.4" fill="none" />
<path d="M1348.6 530 L1348.6 553 L1334.3 566 L1334.3 660 Q1334.3 662.3 1337 662.3 L1355 662.3" stroke-width="2.3" fill="none" />
<line x1="1348.3" y1="553.0" x2="1348.3" y2="662.0" stroke-width="2.0" />
<rect x="1347.0" y="590.0" width="5.0" height="10.0" rx="0" stroke-width="1.5" fill="none" />
<line x1="1088.9" y1="464.5" x2="1174.5" y2="464.5" stroke-width="2.3" />
<line x1="1088.9" y1="683.6" x2="1356.5" y2="683.6" stroke-width="2.3" />
<line x1="1096.1" y1="464.5" x2="1096.1" y2="683.6" stroke-width="2.3" />
<path d="M1091.3 480.5 L1096.1 464.5 L1100.9 480.5" stroke-width="2.3" fill="none" stroke-linejoin="miter"/>
<path d="M1096.1 464.5 L1093.7 473.5 L1098.5 473.5Z" fill="#1e1c1b" stroke="none"/>
<path d="M1100.9 667.6 L1096.1 683.6 L1091.3 667.6" stroke-width="2.3" fill="none" stroke-linejoin="miter"/>
<path d="M1096.1 683.6 L1098.5 674.6 L1093.7 674.6Z" fill="#1e1c1b" stroke="none"/>
<g transform="translate(1108.80 606.70) rotate(-90)" stroke-width="2.35" stroke-linecap="round" stroke-linejoin="round" fill="none"><path transform="translate(0.00 0)" d="M8.6 -1.4 C2.2 5 1.1 10 1.1 15.25 C1.1 20.5 2.2 25.5 8.6 31.9"/><path transform="translate(16.80 0)" d="M1.1 6.5 C1.1 2.5 3 1.1 5.7 1.1 C8.6 1.1 9.9 3 9.9 7.5 C9.9 12 8.5 14.2 5.7 14.2 L3.2 14.2 M5.7 14.2 C8.8 14.2 10.3 16.5 10.3 21.5 C10.3 26.5 8.8 29.4 5.7 29.4 C2.8 29.4 1.1 27 1.1 23.5"/><path transform="translate(31.20 0)" d="M5.7 17.8 C2.6 17.8 1.1 15.5 1.1 11 L1.1 8 C1.1 3.5 2.6 1.1 5.7 1.1 C8.8 1.1 10.3 3.5 10.3 8 L10.3 22 C10.3 26.5 8.8 29.4 5.7 29.4 C2.8 29.4 1.1 27 1.1 24 M10.3 13 C10.3 16 8.8 17.8 5.7 17.8"/><path transform="translate(45.60 0)" d="M8.3 29.4 L8.3 1.1 L1.1 21.5 L11.0 21.5"/><path transform="translate(62.50 0)" d="M1.1 -1.4 C7.4 5 8.5 10 8.5 15.25 C8.5 20.5 7.4 25.5 1.1 31.9"/></g>
<path d="M1359.0 670.5 L1383.1 670.5 L1383.1 682.5 Q1383.1 685.5 1380.1 685.5 L1362.0 685.5 Q1359.0 685.5 1359.0 682.5 Z" fill="#1e1c1b" stroke="none"/>
<rect x="1368.5" y="666.5" width="5.0" height="4.5" rx="0" stroke-width="0" fill="#1e1c1b" stroke="none"/>
<rect x="1361.5" y="678.0" width="8.2" height="3.8" rx="1.5" stroke-width="0" fill="#fff" stroke="none"/>
<rect x="1372.3" y="678.0" width="8.2" height="3.8" rx="1.5" stroke-width="0" fill="#fff" stroke="none"/>
<path d="M1605.3 670.5 L1629.4 670.5 L1629.4 682.5 Q1629.4 685.5 1626.4 685.5 L1608.3 685.5 Q1605.3 685.5 1605.3 682.5 Z" fill="#1e1c1b" stroke="none"/>
<rect x="1614.8" y="666.5" width="5.0" height="4.5" rx="0" stroke-width="0" fill="#1e1c1b" stroke="none"/>
<rect x="1607.8" y="678.0" width="8.2" height="3.8" rx="1.5" stroke-width="0" fill="#fff" stroke="none"/>
<rect x="1618.6" y="678.0" width="8.3" height="3.8" rx="1.5" stroke-width="0" fill="#fff" stroke="none"/>
<line x1="1279.0" y1="767.4" x2="1672.5" y2="767.4" stroke-width="2.3" />
<line x1="1334.1" y1="665.4" x2="1334.1" y2="773.3" stroke-width="2.3" />
<line x1="1370.4" y1="690.8" x2="1370.4" y2="773.3" stroke-width="2.3" />
<line x1="1617.5" y1="690.8" x2="1617.5" y2="773.3" stroke-width="2.3" />
<path d="M1318.1 762.6 L1334.1 767.4 L1318.1 772.2" stroke-width="2.3" fill="none" stroke-linejoin="miter"/>
<path d="M1334.1 767.4 L1325.1 765.0 L1325.1 769.8Z" fill="#1e1c1b" stroke="none"/>
<path d="M1386.4 772.2 L1370.4 767.4 L1386.4 762.6" stroke-width="2.3" fill="none" stroke-linejoin="miter"/>
<path d="M1370.4 767.4 L1379.4 769.8 L1379.4 765.0Z" fill="#1e1c1b" stroke="none"/>
<path d="M1601.5 762.6 L1617.5 767.4 L1601.5 772.2" stroke-width="2.3" fill="none" stroke-linejoin="miter"/>
<path d="M1617.5 767.4 L1608.5 765.0 L1608.5 769.8Z" fill="#1e1c1b" stroke="none"/>
<path d="M1633.5 772.2 L1617.5 767.4 L1633.5 762.6" stroke-width="2.3" fill="none" stroke-linejoin="miter"/>
<path d="M1617.5 767.4 L1626.5 769.8 L1626.5 765.0Z" fill="#1e1c1b" stroke="none"/>
<path d="M1656.4 762.6 L1672.4 767.4 L1656.4 772.2" stroke-width="2.3" fill="none" stroke-linejoin="miter"/>
<path d="M1672.4 767.4 L1663.4 765.0 L1663.4 769.8Z" fill="#1e1c1b" stroke="none"/>
<g transform="translate(1294.30 776.50)" stroke-width="2.35" stroke-linecap="round" stroke-linejoin="round" fill="none"><path transform="translate(0.00 0)" d="M10.100000000000001 6.8 C9.5 3 8 1.1 5.7 1.1 C2.6 1.1 1.1 4 1.1 11 L1.1 22 C1.1 26.5 2.5 29.4 5.7 29.4 C8.8 29.4 10.3 26.5 10.3 21 L10.3 19 C10.3 14.5 8.8 11.8 5.7 11.8 C2.8 11.8 1.1 14 1.1 17"/><path transform="translate(14.40 0)" d="M10.100000000000001 1.1 L1.7000000000000002 1.1 L1.5 14.5 M1.5 14.5 C2 12.5 3.5 11.6 5.7 11.6 C8.8 11.6 10.3 14 10.3 18.5 L10.3 22 C10.3 26.5 8.8 29.4 5.7 29.4 C2.8 29.4 1.1 27 1.1 24"/></g>
<g transform="translate(1474.50 776.50)" stroke-width="2.35" stroke-linecap="round" stroke-linejoin="round" fill="none"><path transform="translate(0.00 0)" d="M8.3 29.4 L8.3 1.1 L1.1 21.5 L11.0 21.5"/><path transform="translate(14.40 0)" d="M8.3 29.4 L8.3 1.1 L1.1 21.5 L11.0 21.5"/><path transform="translate(28.80 0)" d="M8.3 29.4 L8.3 1.1 L1.1 21.5 L11.0 21.5"/></g>
<g transform="translate(1632.70 778.30)" stroke-width="2.35" stroke-linecap="round" stroke-linejoin="round" fill="none"><path transform="translate(0.00 0)" d="M5.7 17.8 C2.6 17.8 1.1 15.5 1.1 11 L1.1 8 C1.1 3.5 2.6 1.1 5.7 1.1 C8.8 1.1 10.3 3.5 10.3 8 L10.3 22 C10.3 26.5 8.8 29.4 5.7 29.4 C2.8 29.4 1.1 27 1.1 24 M10.3 13 C10.3 16 8.8 17.8 5.7 17.8"/><path transform="translate(14.40 0)" d="M5.7 14.2 C2.8 14.2 1.7000000000000002 12 1.7000000000000002 7.5 C1.7000000000000002 3.3 2.8 1.1 5.7 1.1 C8.6 1.1 9.700000000000001 3.3 9.700000000000001 7.5 C9.700000000000001 12 8.6 14.2 5.7 14.2 C8.8 14.2 10.3 16.5 10.3 21.5 C10.3 26.5 8.8 29.4 5.7 29.4 C2.6 29.4 1.1 26.5 1.1 21.5 C1.1 16.5 2.6 14.2 5.7 14.2 Z"/></g>
</svg>
</body></html>
